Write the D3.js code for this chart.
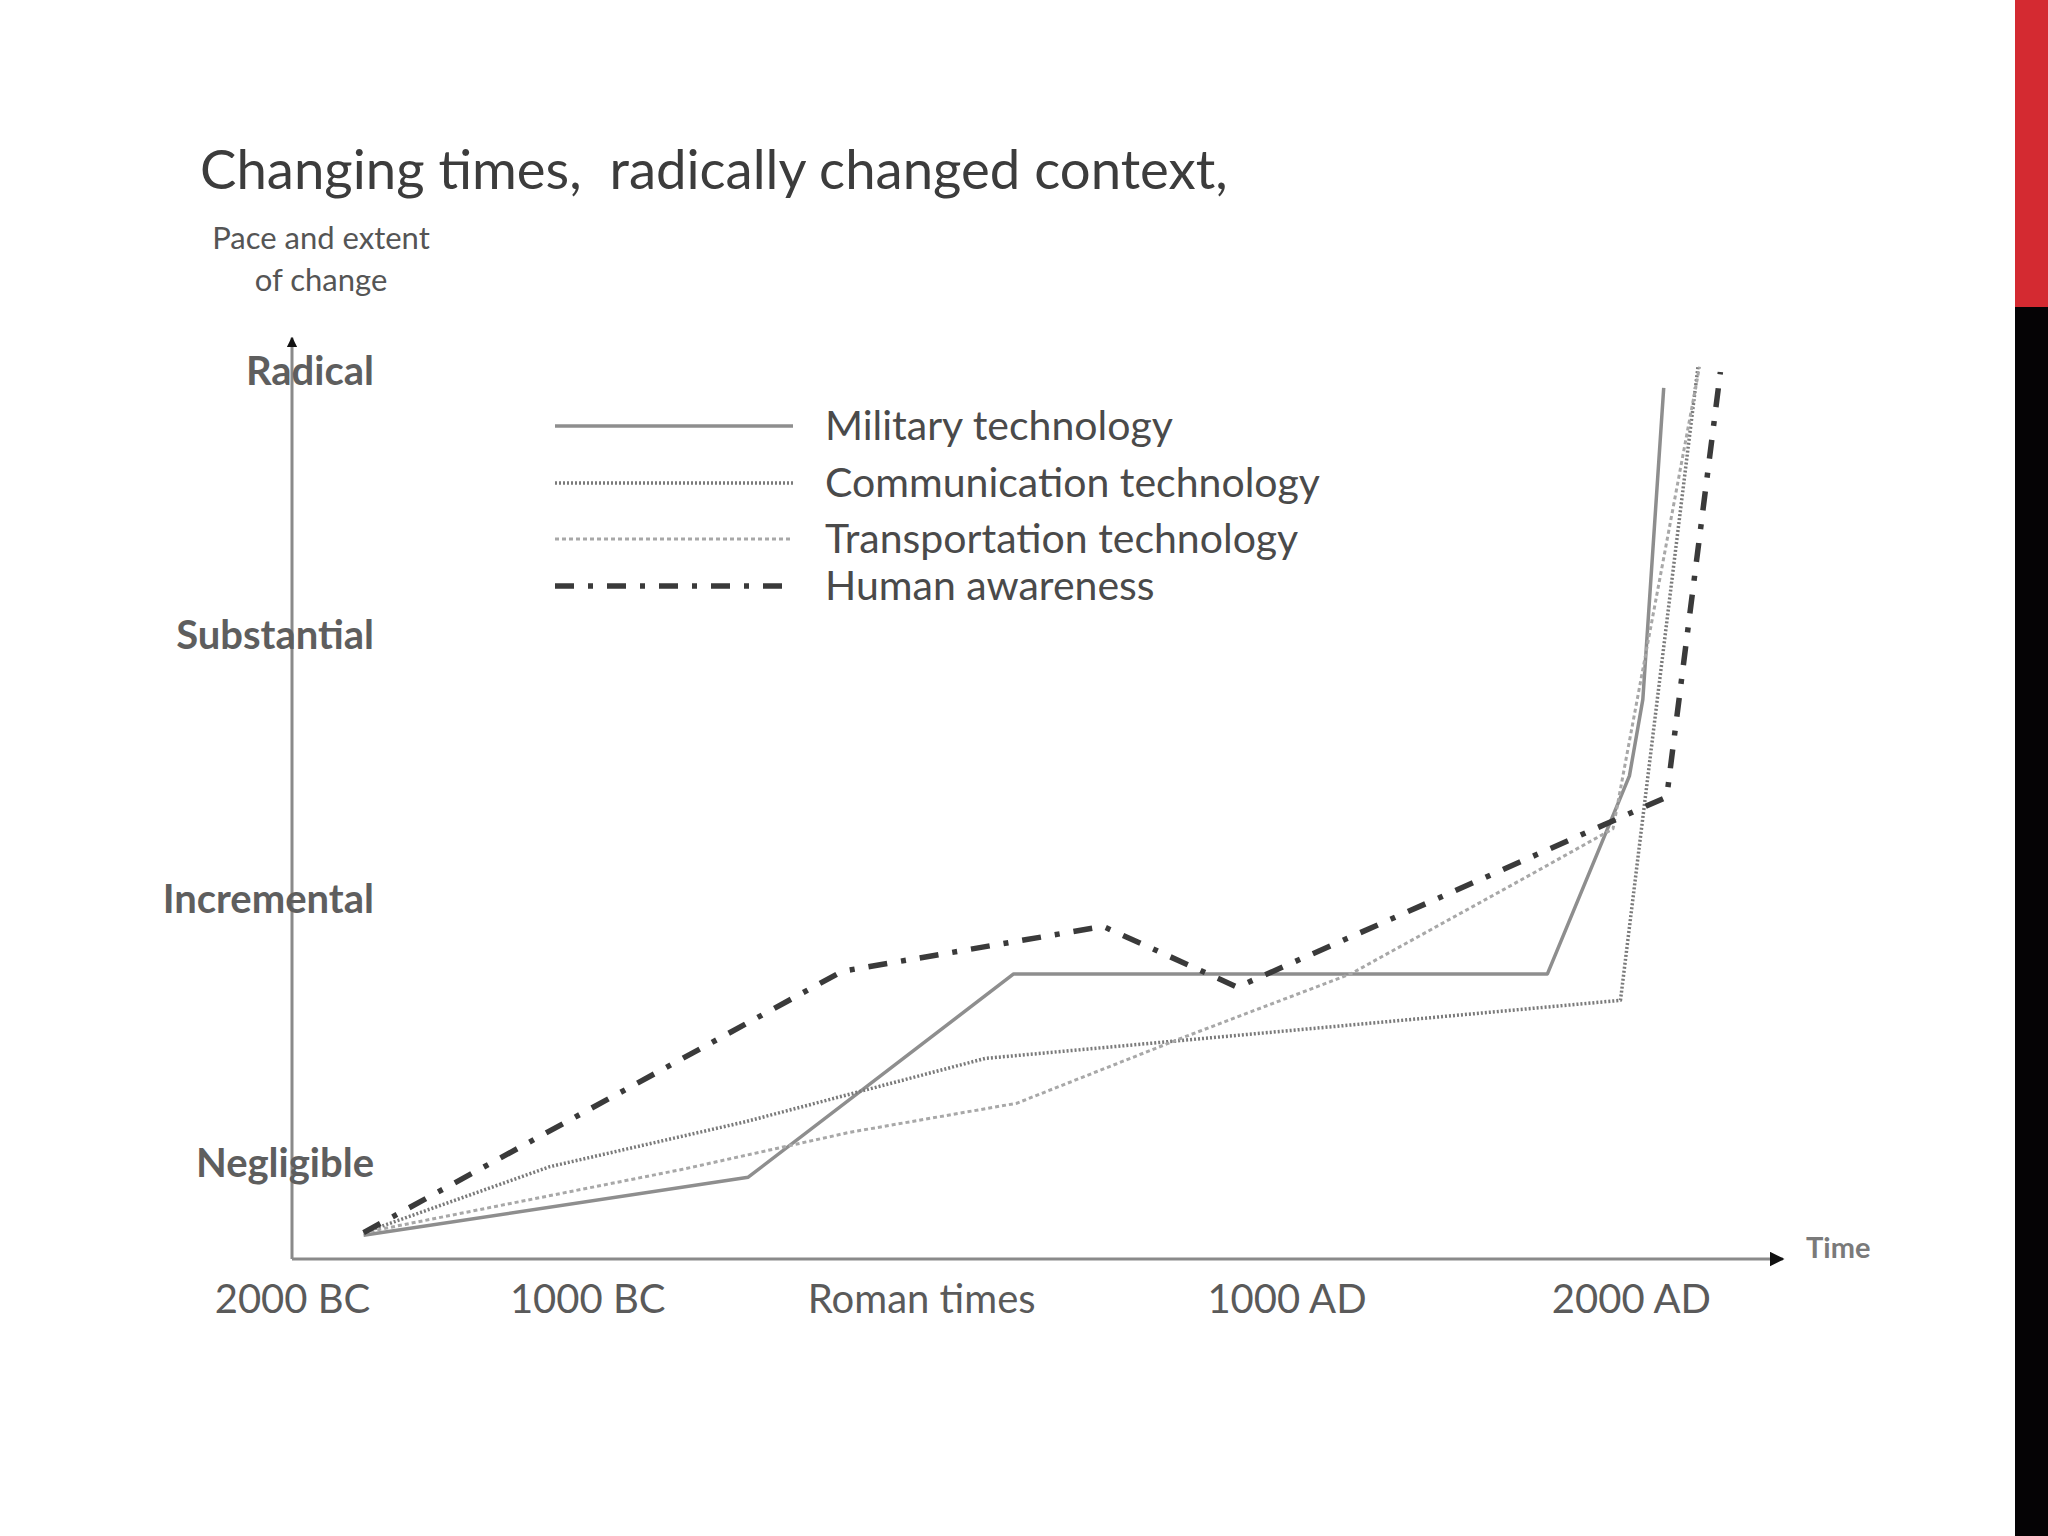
<!DOCTYPE html>
<html><head><meta charset="utf-8">
<script src="https://cdn.jsdelivr.net/npm/d3@7/dist/d3.min.js"></script>
<style>body{margin:0;background:#fff;} svg{display:block}</style>
</head><body>
<svg id="chart" width="2048" height="1536"></svg>
<script>
// ---- data (time position: 0 = start of axis, 100 = arrow tip; level: 1 Negligible .. 4 Radical)
const titleText = "Changing times,  radically changed context,";
const yTitleLines = ["Pace and extent", "of change"];
const levelLabels = ["Negligible", "Incremental", "Substantial", "Radical"];
const levelValues = [1, 2, 3, 4];
const timeLabels = ["2000 BC", "1000 BC", "Roman times", "1000 AD", "2000 AD"];
const timePositions = [0, 19.8, 42.2, 66.7, 89.8];
const seriesNames = ["Military technology", "Communication technology", "Transportation technology", "Human awareness"];

const militaryX = [4.8, 30.6, 48.4, 84.2, 89.7, 90.6, 92.0];
const militaryY = [0.73, 0.95, 1.72, 1.72, 2.47, 2.76, 3.94];
const communicationX = [4.8, 17.3, 30.4, 46.5, 89.1, 94.3];
const communicationY = [0.74, 0.99, 1.16, 1.40, 1.62, 4.02];
const transportationX = [4.8, 26.2, 37.4, 48.6, 59.8, 71.0, 83.2, 88.6, 94.4];
const transportationY = [0.74, 0.98, 1.12, 1.23, 1.48, 1.72, 2.10, 2.27, 4.02];
const humanX = [4.8, 36.9, 54.4, 63.4, 92.2, 95.8];
const humanY = [0.74, 1.73, 1.90, 1.67, 2.39, 4.00];

const axisMinLevel = 0.64, axisMaxLevel = 4.13;

// ---- drawing
const svg = d3.select("#chart");
const FONT = "Lato, 'Open Sans', sans-serif";

// side bar
svg.append("rect").attr("x", 2015).attr("y", 0).attr("width", 33).attr("height", 307).attr("fill", "#d42a31");
svg.append("rect").attr("x", 2015).attr("y", 307).attr("width", 33).attr("height", 1229).attr("fill", "#050305");

const x = d3.scaleLinear().domain([0, 100]).range([292, 1783]);
const y = d3.scaleLinear().domain([1, 4]).range([1164, 372]);

const defs = svg.append("defs");
defs.append("marker").attr("id", "arrowR").attr("viewBox", "0 0 10 10").attr("refX", 9).attr("refY", 5)
  .attr("markerWidth", 5).attr("markerHeight", 5).attr("markerUnits", "strokeWidth").attr("orient", "auto")
  .append("path").attr("d", "M0,0 L10,5 L0,10 z").attr("fill", "#111");
defs.append("marker").attr("id", "arrowU").attr("viewBox", "0 0 10 10").attr("refX", 9).attr("refY", 5)
  .attr("markerWidth", 3.5).attr("markerHeight", 3.5).attr("markerUnits", "strokeWidth").attr("orient", "auto")
  .append("path").attr("d", "M0,0 L10,5 L0,10 z").attr("fill", "#111");

// title
svg.append("text").attr("x", 200).attr("y", 189).text(titleText)
  .style("white-space", "pre")
  .attr("font-family", FONT).attr("font-size", 54.5).attr("fill", "#3c3c3c");

// y title
svg.append("g").selectAll("text").data(yTitleLines).join("text")
  .attr("x", 321).attr("y", (d, i) => 249 + i * 42).attr("text-anchor", "middle")
  .attr("font-family", FONT).attr("font-size", 31).attr("fill", "#555").text(d => d);

// axes lines
svg.append("line").attr("x1", x(0)).attr("x2", x(0)).attr("y1", y(axisMinLevel)).attr("y2", y(axisMaxLevel))
  .attr("stroke", "#8a8a8a").attr("stroke-width", 3).attr("marker-end", "url(#arrowU)");
svg.append("line").attr("x1", x(0)).attr("x2", x(100)).attr("y1", y(axisMinLevel)).attr("y2", y(axisMinLevel))
  .attr("stroke", "#8a8a8a").attr("stroke-width", 3).attr("marker-end", "url(#arrowR)");

// y level labels via axis
const yAxis = d3.axisLeft(y).tickValues(levelValues).tickFormat((d, i) => levelLabels[i]).tickSize(0).tickPadding(0);
const gy = svg.append("g").attr("transform", "translate(374,0)").call(yAxis);
gy.select(".domain").remove();
gy.selectAll("text").attr("font-family", FONT).attr("font-size", 40).attr("font-weight", 700).attr("fill", "#5e5e5e");

// x labels via axis
const xAxis = d3.axisBottom(x).tickValues(timePositions).tickFormat((d, i) => timeLabels[i]).tickSize(0).tickPadding(26);
const gx = svg.append("g").attr("transform", `translate(0,${y(axisMinLevel)})`).call(xAxis);
gx.select(".domain").remove();
gx.selectAll("text").attr("font-family", FONT).attr("font-size", 40).attr("fill", "#5a5a5a");

svg.append("text").attr("x", 1806).attr("y", 1258).text("Time")
  .attr("font-family", FONT).attr("font-size", 29).attr("font-weight", 700).attr("fill", "#7a7a7a");

// series
const styles = [
  { color: "#8e8e8e", width: 3.5, dash: null },
  { color: "#7a7a7a", width: 3.5, dash: "2,2" },
  { color: "#a8a8a8", width: 3, dash: "4,3" },
  { color: "#3a3a3a", width: 5.5, dash: "19,14,5,14" }
];
const seriesData = [
  d3.zip(militaryX, militaryY),
  d3.zip(communicationX, communicationY),
  d3.zip(transportationX, transportationY),
  d3.zip(humanX, humanY)
];
const line = d3.line().x(d => x(d[0])).y(d => y(d[1]));
svg.append("g").selectAll("path").data(seriesData).join("path")
  .attr("d", line).attr("fill", "none")
  .attr("stroke", (d, i) => styles[i].color)
  .attr("stroke-width", (d, i) => styles[i].width)
  .attr("stroke-dasharray", (d, i) => styles[i].dash)
  .attr("stroke-linejoin", "round");

// legend
const legendY = [426, 483, 539, 586];
const lg = svg.append("g");
seriesNames.forEach((name, i) => {
  lg.append("line").attr("x1", 555).attr("x2", 793).attr("y1", legendY[i]).attr("y2", legendY[i])
    .attr("stroke", styles[i].color).attr("stroke-width", styles[i].width)
    .attr("stroke-dasharray", styles[i].dash);
  lg.append("text").attr("x", 825).attr("y", legendY[i]).attr("dy", "0.35em").text(name)
    .attr("font-family", FONT).attr("font-size", 41).attr("fill", "#4a4a4a");
});
</script>
</body></html>
